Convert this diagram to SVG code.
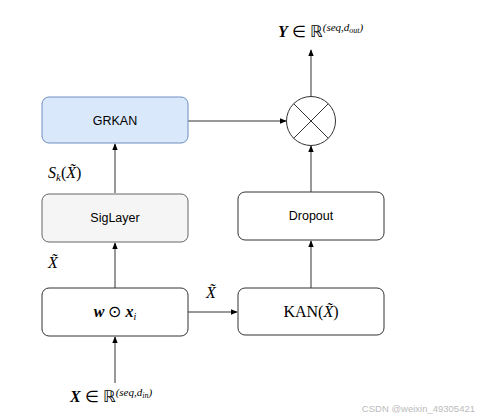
<svg xmlns="http://www.w3.org/2000/svg" width="479" height="420" viewBox="0 0 479 420">
<style>
.box{fill:#ffffff;stroke:#333333;stroke-width:1}
.lbl{font-family:"Liberation Sans",Arial,sans-serif;font-size:12.5px;fill:#000;text-anchor:middle}
.math{font-family:"Liberation Serif","Times New Roman",serif;font-size:16px;fill:#000}
.mi{font-style:italic}
.edge{fill:none;stroke:#333333;stroke-width:1}
</style>
<defs>
<marker id="ah" viewBox="0 0 10 10" refX="9" refY="5" markerWidth="7" markerHeight="7" markerUnits="userSpaceOnUse" orient="auto">
<path d="M0,1 L10,5 L0,9 Z" fill="#000"/>
</marker>
</defs>
<rect width="479" height="420" fill="#ffffff"/>
<g id="connectors">
<line class="edge" x1="115" y1="383" x2="115" y2="337" marker-end="url(#ah)"/>
<line class="edge" x1="115" y1="288" x2="115" y2="243" marker-end="url(#ah)"/>
<line class="edge" x1="115" y1="193" x2="115" y2="144" marker-end="url(#ah)"/>
<line class="edge" x1="188" y1="312" x2="237" y2="312" marker-end="url(#ah)"/>
<line class="edge" x1="311" y1="288" x2="311" y2="241" marker-end="url(#ah)"/>
<line class="edge" x1="311" y1="192" x2="311" y2="146" marker-end="url(#ah)"/>
<line class="edge" x1="188" y1="121" x2="286" y2="121" marker-end="url(#ah)"/>
<line class="edge" x1="311" y1="97" x2="311" y2="50" marker-end="url(#ah)"/>
</g>
<g id="grkan">
<rect x="42" y="97" width="146" height="46" rx="7" fill="#dae8fc" stroke="#6c8ebf"/>
<text class="lbl" x="115" y="125">GRKAN</text>
</g>
<g id="siglayer">
<rect x="42" y="194" width="146" height="48" rx="7" fill="#f5f5f5" stroke="#666666"/>
<text class="lbl" x="115" y="222" fill="#333333">SigLayer</text>
</g>
<g id="weight">
<rect class="box" x="42" y="288" width="146" height="48" rx="7"/>
<text class="math" x="115" y="317" text-anchor="middle"><tspan class="mi" font-weight="bold">w</tspan> ⊙ <tspan class="mi" font-weight="bold">x</tspan><tspan font-size="10" dy="3" class="mi">i</tspan></text>
</g>
<g id="kan">
<rect class="box" x="238" y="288" width="146" height="47" rx="7"/>
<text class="math" x="311" y="317" text-anchor="middle">KAN(<tspan class="mi">X̃</tspan>)</text>
</g>
<g id="dropout">
<rect class="box" x="238" y="192" width="146" height="48" rx="7"/>
<text class="lbl" x="311" y="220">Dropout</text>
</g>
<g id="mult">
<circle cx="311" cy="121" r="24.5" fill="#ffffff" stroke="#333333"/>
<line class="edge" x1="293.7" y1="103.7" x2="328.3" y2="138.3"/>
<line class="edge" x1="328.3" y1="103.7" x2="293.7" y2="138.3"/>
</g>
<g id="labels">
<text class="math" x="278" y="37"><tspan class="mi" font-weight="bold">Y</tspan> ∈ ℝ<tspan font-size="11" dy="-6" class="mi">(seq,d<tspan font-size="8" dy="2">out</tspan><tspan dy="-2">)</tspan></tspan></text>
<text class="math" x="70" y="402"><tspan class="mi" font-weight="bold">X</tspan> ∈ ℝ<tspan font-size="11" dy="-6" class="mi">(seq,d<tspan font-size="8" dy="2">in</tspan><tspan dy="-2">)</tspan></tspan></text>
<text class="math" x="48" y="178"><tspan class="mi">S<tspan font-size="11" dy="3">k</tspan></tspan><tspan dy="-3">(</tspan><tspan class="mi">X̃</tspan>)</text>
<text class="math mi" x="48" y="268">X̃</text>
<text class="math mi" x="206" y="298">X̃</text>
</g>
<text x="475" y="412" text-anchor="end" font-family="'Liberation Sans',Arial,sans-serif" font-size="9.5" fill="#bbbbbb">CSDN @weixin_49305421</text>
</svg>
